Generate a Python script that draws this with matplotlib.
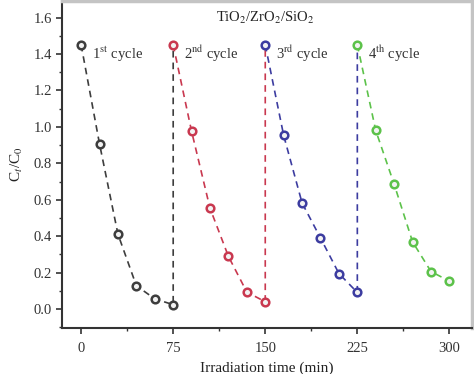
import matplotlib
matplotlib.use("Agg")
import matplotlib.pyplot as plt
from matplotlib.ticker import MultipleLocator

plt.rcParams["font.family"] = ["Liberation Serif", "DejaVu Serif"]
plt.rcParams["mathtext.fontset"] = "stix"

# data
times = [
    [0, 15, 30, 45, 60, 75],
    [75, 90, 105, 120, 135, 150],
    [150, 165, 180, 195, 210, 225],
    [225, 240, 255, 270, 285, 300],
]
ratios = [
    [1.45, 0.906, 0.411, 0.128, 0.056, 0.024],
    [1.45, 0.975, 0.553, 0.289, 0.093, 0.040],
    [1.45, 0.953, 0.582, 0.390, 0.195, 0.091],
    [1.45, 0.980, 0.685, 0.369, 0.206, 0.153],
]
labels = ["1$^{\\mathrm{st}}$ cycle", "2$^{\\mathrm{nd}}$ cycle",
          "3$^{\\mathrm{rd}}$ cycle", "4$^{\\mathrm{th}}$ cycle"]
colors = ["#3d3d3d", "#c9384f", "#3c3ca0", "#5cc24a"]
label_colors = ["#3a3a3a", "#555555", "#555555", "#555555"]

fig = plt.figure(figsize=(4.74, 3.74), dpi=100)
ax = fig.add_axes([0.131, 0.123, 0.865, 0.874])

for i in range(4):
    x = list(times[i])
    y = list(ratios[i])
    # dashed drop-back line joins the start of the next cycle
    if i < 3:
        x.append(times[i + 1][0])
        y.append(ratios[i + 1][0])
    ax.plot(x, y, "--", color=colors[i], lw=1.2, dashes=(4, 3))
    ax.plot(times[i], ratios[i], "o", color=colors[i], ms=5.5,
            mfc="#f2f2f2", mew=1.8, zorder=3)
    ax.text(times[i][0] + 9, ratios[i][0] - 0.05, labels[i], fontsize=10.5,
            color="#333333", va="center", ha="left")

ax.text(150, 1.6, "TiO$_2$/ZrO$_2$/SiO$_2$", fontsize=10.5, ha="center",
        va="center", color="#222222")

ax.set_xlim(-15.5, 318.5)
ax.set_ylim(-0.104, 1.69)
ax.set_xticks([0, 75, 150, 225, 300])
ax.xaxis.set_minor_locator(MultipleLocator(37.5))
ax.yaxis.set_major_locator(MultipleLocator(0.2))
ax.yaxis.set_minor_locator(MultipleLocator(0.1))
ax.yaxis.set_major_formatter(plt.FuncFormatter(lambda v, p: f"{v:.1f}"))

ax.tick_params(which="major", direction="out", length=4, width=1.2,
               labelsize=10.5, colors="#333333")
ax.tick_params(which="minor", direction="out", length=2.5, width=1.0,
               colors="#333333")
ax.tick_params(axis="x", pad=6)

for side in ["left", "bottom"]:
    ax.spines[side].set_linewidth(1.5)
    ax.spines[side].set_color("#333333")
for side in ["top", "right"]:
    ax.spines[side].set_linewidth(2.5)
    ax.spines[side].set_color("#c4c4c4")

ax.set_xlabel("Irradiation time (min)", fontsize=11, color="#222222", labelpad=5)
ax.set_ylabel("C$_t$/C$_0$", fontsize=11, color="#222222", labelpad=6)

fig.savefig("out.png", dpi=100)
